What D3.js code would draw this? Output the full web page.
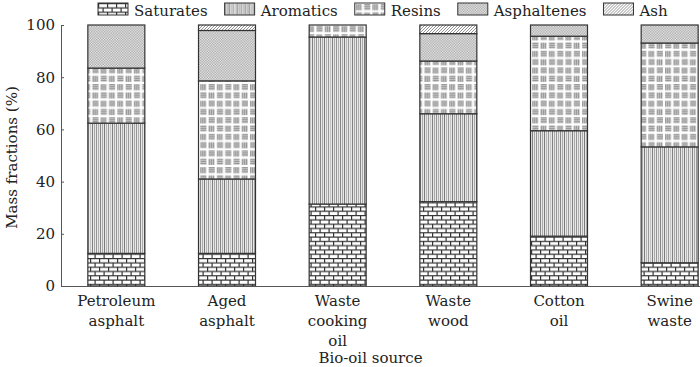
<!DOCTYPE html>
<html>
<head>
<meta charset="utf-8">
<script src="https://cdn.jsdelivr.net/npm/d3@7"></script>
<style>
  body { margin: 0; background: #fff; }
  svg { display: block; font-family: "DejaVu Serif", serif; }
  .axis text { font-size: 15px; fill: #222; font-family: "DejaVu Serif", serif; }
</style>
</head>
<body>
<svg id="chart" width="700" height="367"></svg>
<script>
(function() {
  'use strict';

  var sources = ['Petroleum asphalt', 'Aged asphalt', 'Waste cooking oil', 'Waste wood', 'Cotton oil', 'Swine waste'];
  var fractions = ['Saturates', 'Aromatics', 'Resins', 'Asphaltenes', 'Ash'];
  var saturates = [12.5, 12.5, 31.4, 32.3, 19.1, 8.9];
  var aromatics = [49.9, 28.5, 64.0, 33.7, 40.4, 44.4];
  var resins = [21.1, 37.6, 4.6, 20.2, 36.2, 39.8];
  var asphaltenes = [16.5, 19.3, 0, 10.5, 4.3, 6.9];
  var ash = [0, 2.1, 0, 3.3, 0, 0];
  var yTicks = [0, 20, 40, 60, 80, 100];

  var series = [saturates, aromatics, resins, asphaltenes, ash];
  var rows = sources.map(function(s, i) {
    var row = { source: s };
    fractions.forEach(function(f, j) { row[f] = series[j][i]; });
    return row;
  });

  var svg = d3.select('#chart'),
    margin = { left: 61, top: 25, bottom: 81 },
    height = +svg.attr('height'),
    x0 = margin.left,
    yBottom = height - margin.bottom;

  var x = d3.scaleBand()
    .domain(sources)
    .range([x0, x0 + 664])
    .paddingInner(0.485)
    .paddingOuter(0.2425);

  var y = d3.scaleLinear().domain([0, 100]).range([yBottom, margin.top]);

  // patterns
  var defs = svg.append('defs');

  var brick = defs.append('pattern').attr('id', 'p-Saturates')
    .attr('patternUnits', 'userSpaceOnUse').attr('width', 9).attr('height', 8.6);
  brick.append('rect').attr('width', 9).attr('height', 8.6).attr('fill', '#fff');
  brick.append('path')
    .attr('d', 'M0,0.5H9M0,4.8H9M0.6,0V4.8M5.1,4.8V8.6')
    .attr('stroke', '#333').attr('stroke-width', 1.2).attr('fill', 'none');

  var stripeShades = ['#888', '#aaa', '#7a7a7a', '#b5b5b5', '#999', '#c4c4c4', '#808080', '#a8a8a8', '#959595', '#b0b0b0'];
  var stripes = defs.append('pattern').attr('id', 'p-Aromatics')
    .attr('patternUnits', 'userSpaceOnUse').attr('width', stripeShades.length * 2).attr('height', 4);
  stripes.append('rect').attr('width', stripeShades.length * 2).attr('height', 4).attr('fill', '#e8e8e8');
  stripes.selectAll('rect.s').data(stripeShades).enter().append('rect')
    .attr('class', 's')
    .attr('x', function(d, i) { return i * 2; })
    .attr('width', 1).attr('height', 4)
    .attr('fill', function(d) { return d; });

  var weave = defs.append('pattern').attr('id', 'p-Resins')
    .attr('patternUnits', 'userSpaceOnUse').attr('width', 16.6).attr('height', 16.6);
  weave.append('rect').attr('width', 16.6).attr('height', 16.6).attr('fill', '#fff');
  [[0, 0, 'v'], [8.3, 0, 'h'], [0, 8.3, 'h'], [8.3, 8.3, 'v']].forEach(function(c) {
    var g = weave.append('g').attr('transform', 'translate(' + (c[0] + 1.2) + ',' + (c[1] + 1.2) + ')');
    g.append('rect').attr('width', 6).attr('height', 6).attr('fill', '#d0d0d0');
    d3.range(3).forEach(function(k) {
      g.append('rect')
        .attr('x', c[2] === 'v' ? k * 2 : 0).attr('y', c[2] === 'v' ? 0 : k * 2)
        .attr('width', c[2] === 'v' ? 1 : 6).attr('height', c[2] === 'v' ? 6 : 1)
        .attr('fill', '#8a8a8a');
    });
  });

  var checker = defs.append('pattern').attr('id', 'p-Asphaltenes')
    .attr('patternUnits', 'userSpaceOnUse').attr('width', 2.6).attr('height', 2.6);
  checker.append('rect').attr('width', 2.6).attr('height', 2.6).attr('fill', '#efefef');
  checker.append('rect').attr('width', 1.3).attr('height', 1.3).attr('fill', '#a2a2a2');
  checker.append('rect').attr('x', 1.3).attr('y', 1.3).attr('width', 1.3).attr('height', 1.3).attr('fill', '#a2a2a2');

  var hatch = defs.append('pattern').attr('id', 'p-Ash')
    .attr('patternUnits', 'userSpaceOnUse').attr('width', 3).attr('height', 3);
  hatch.append('rect').attr('width', 3).attr('height', 3).attr('fill', '#fff');
  hatch.append('path')
    .attr('d', 'M0,3L3,0M-1,1L1,-1M2,4L4,2')
    .attr('stroke', '#888').attr('stroke-width', 0.9);

  // bars
  var stacked = d3.stack().keys(fractions)(rows);

  svg.append('g').selectAll('g')
    .data(stacked)
    .enter().append('g')
    .attr('fill', function(d) { return 'url(#p-' + d.key + ')'; })
    .selectAll('rect')
    .data(function(d) { return d.filter(function(p) { return p[1] - p[0] > 0; }); })
    .enter().append('rect')
    .attr('x', function(d) { return x(d.data.source); })
    .attr('y', function(d) { return y(d[1]); })
    .attr('width', x.bandwidth())
    .attr('height', function(d) { return y(d[0]) - y(d[1]); })
    .attr('stroke', '#333')
    .attr('stroke-width', 1.2);

  // axes
  var yAxis = svg.append('g').attr('class', 'axis')
    .attr('transform', 'translate(' + x0 + ',0)')
    .call(d3.axisLeft(y).tickValues(yTicks).tickSize(-3).tickSizeOuter(0).tickPadding(6))
    .attr('font-family', null).attr('font-size', null);
  yAxis.selectAll('line, path').attr('stroke', '#555');

  svg.append('line')
    .attr('x1', x0).attr('x2', 700)
    .attr('y1', yBottom + 0.5).attr('y2', yBottom + 0.5)
    .attr('stroke', '#555');

  var xAxis = svg.append('g').attr('class', 'axis')
    .attr('transform', 'translate(0,' + yBottom + ')')
    .call(d3.axisBottom(x).tickSize(0).tickPadding(9))
    .attr('font-family', null).attr('font-size', null);
  xAxis.select('.domain').remove();
  xAxis.selectAll('.tick text').each(function(d) {
    var t = d3.select(this).text(null);
    d.split(' ').forEach(function(w, i) {
      t.append('tspan').attr('x', 0).attr('dy', i === 0 ? '0.71em' : '1.33em').text(w);
    });
  });

  svg.append('text')
    .attr('x', (x0 + 700) / 2 - 10).attr('y', 363)
    .attr('text-anchor', 'middle')
    .style('font-size', '15px').attr('fill', '#222')
    .text('Bio-oil source');

  svg.append('text')
    .attr('transform', 'translate(17,' + (y(50) + 2) + ') rotate(-90)')
    .attr('text-anchor', 'middle')
    .style('font-size', '15px').attr('fill', '#222')
    .text('Mass fractions (%)');

  // legend
  var legend = svg.append('g').attr('class', 'legend');
  var lx = 98;
  fractions.forEach(function(f) {
    var item = legend.append('g').attr('transform', 'translate(' + lx + ',3)');
    item.append('rect')
      .attr('width', 30).attr('height', 12)
      .attr('fill', 'url(#p-' + f + ')')
      .attr('stroke', '#333').attr('stroke-width', 1);
    var label = item.append('text')
      .attr('x', 36).attr('y', 13)
      .style('font-size', '15px').attr('fill', '#222')
      .text(f);
    lx += 36 + label.node().getComputedTextLength() + 17;
  });
}).call(this);
</script>
</body>
</html>
